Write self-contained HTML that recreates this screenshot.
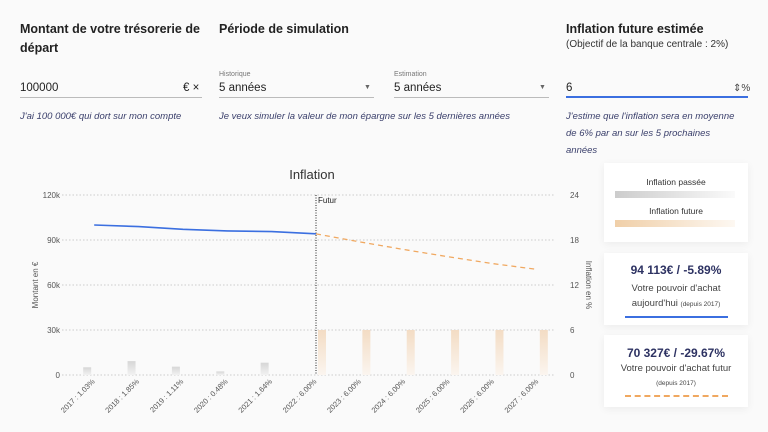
<!DOCTYPE html>
<html><head><meta charset="utf-8">
<style>
*{box-sizing:border-box;margin:0;padding:0}
body{width:768px;height:432px;overflow:hidden;background:#fafafa;font-family:"Liberation Sans",sans-serif;color:#222;position:relative}
.a{position:absolute;white-space:nowrap}
.h{font-size:12.5px;font-weight:bold;color:#222}
.sub{font-size:10px;color:#333}
.lab{font-size:7px;color:#777}
.val{font-size:11.5px;color:#222}
.line{position:absolute;height:1px;background:#bbb}
.hint{font-size:9.5px;font-style:italic;color:#3a3f6b;line-height:17px}
.card{position:absolute;background:#fff;box-shadow:0 2px 8px rgba(0,0,0,0.06);left:604px;width:144px}
.ct{text-align:center;position:absolute;left:0;right:0}
</style></head><body>
<div class="a h" style="left:20px;top:20px;line-height:19px">Montant de votre trésorerie de<br>départ</div>
<div class="a h" style="left:219px;top:20px;line-height:19px">Période de simulation</div>
<div class="a h" style="left:566px;top:20px;line-height:19px">Inflation future estimée</div>
<div class="a sub" style="left:566px;top:39px">(Objectif de la banque centrale : 2%)</div>

<div class="a val" style="left:20px;top:82px">100000</div>
<div class="a val" style="left:183px;top:82px">€ ×</div>
<div class="line" style="left:20px;top:97px;width:182px"></div>

<div class="a lab" style="left:219px;top:71px">Historique</div>
<div class="a val" style="left:219px;top:82px">5 années</div>
<div class="a" style="left:364px;top:84px;font-size:7px;color:#666">▼</div>
<div class="line" style="left:219px;top:97px;width:155px"></div>

<div class="a lab" style="left:394px;top:71px">Estimation</div>
<div class="a val" style="left:394px;top:82px">5 années</div>
<div class="a" style="left:539px;top:84px;font-size:7px;color:#666">▼</div>
<div class="line" style="left:394px;top:97px;width:155px"></div>

<div class="a val" style="left:566px;top:82px">6</div>
<div class="a" style="left:733px;top:83px;font-size:10px;color:#444">⇕%</div>
<div class="line" style="left:566px;top:96px;width:182px;height:2px;background:#3b6fe0"></div>

<div class="a hint" style="left:20px;top:108px">J'ai 100 000€ qui dort sur mon compte</div>
<div class="a hint" style="left:219px;top:108px">Je veux simuler la valeur de mon épargne sur les 5 dernières années</div>
<div class="a hint" style="left:566px;top:108px">J'estime que l'inflation sera en moyenne<br>de 6% par an sur les 5 prochaines<br>années</div>

<svg class="a" style="left:0;top:160px" width="600" height="272">
<defs>
<linearGradient id="gp" x1="0" y1="0" x2="0" y2="1"><stop offset="0" stop-color="#d6d6d6"/><stop offset="1" stop-color="#f2f2f2"/></linearGradient>
<linearGradient id="gf" x1="0" y1="0" x2="0" y2="1"><stop offset="0" stop-color="#f3dcc4"/><stop offset="1" stop-color="#fbf5ef"/></linearGradient>
</defs>
<g id="g"></g>
</svg>

<div class="card" style="top:163px;height:79px">
<div class="ct" style="top:14px;font-size:8.5px;color:#333">Inflation passée</div>
<div style="position:absolute;left:11px;top:28px;width:120px;height:7px;background:linear-gradient(90deg,#ccc,#fafafa)"></div>
<div class="ct" style="top:43px;font-size:8.5px;color:#333">Inflation future</div>
<div style="position:absolute;left:11px;top:57px;width:120px;height:7px;background:linear-gradient(90deg,#f0cfa8,#fdf8f2)"></div>
</div>
<div class="card" style="top:253px;height:72px">
<div class="ct" style="top:10px;font-size:12px;font-weight:bold;color:#2d3262">94 113€ / -5.89%</div>
<div class="ct" style="top:28px;font-size:9.5px;color:#444;line-height:15px">Votre pouvoir d'achat<br>aujourd'hui <span style="font-size:6.5px">(depuis 2017)</span></div>
<div style="position:absolute;left:21px;top:63px;width:103px;height:2px;background:#3b6fe0"></div>
</div>
<div class="card" style="top:335px;height:72px">
<div class="ct" style="top:11px;font-size:12px;font-weight:bold;color:#2d3262">70 327€ / -29.67%</div>
<div class="ct" style="top:28px;font-size:9.5px;color:#444">Votre pouvoir d'achat futur</div>
<div class="ct" style="top:45px;font-size:6.5px;color:#444">(depuis 2017)</div>
<div style="position:absolute;left:21px;top:60px;width:103px;border-top:2px dashed #f0a860"></div>
</div>

<script>
const years=["2017","2018","2019","2020","2021","2022","2023","2024","2025","2026","2027"];
const inflation=[1.03,1.85,1.11,0.48,1.64,6.00,6.00,6.00,6.00,6.00,6.00];
const pastValues=[100000,98970,97140,96070,95600,94113];
const futureValues=[94113,88680,83560,78740,74200,70327];
const leftTicks=["0","30k","60k","90k","120k"];
const rightTicks=["0","6","12","18","24"];
const ns="http://www.w3.org/2000/svg";
const g=document.getElementById('g');
const L=72,R=560,T=35,B=215;
const bw=(R-L)/years.length;
const xC=i=>L+bw*(i+0.5);
const yL=v=>B-(v/120000)*(B-T);
const yR=v=>B-(v/24)*(B-T);
function el(t,a){const e=document.createElementNS(ns,t);for(const k in a)e.setAttribute(k,a[k]);g.appendChild(e);return e;}
function tx(x,y,s,a){const e=el('text',Object.assign({x:x,y:y,'font-size':8,fill:'#555','font-family':'Liberation Sans, sans-serif'},a));e.textContent=s;return e;}
leftTicks.forEach((t,i)=>{const y=B-i*(B-T)/4;
const ln=el('line',{x1:62,x2:555,y1:y,y2:y,stroke:'#ccc','stroke-dasharray':'1.5,2'});

const a=tx(60,y+3,t,{'text-anchor':'end'});
const b=tx(570,y+3,rightTicks[i]);});
const tt=tx(312,19,'Inflation',{'font-size':13,fill:'#333','text-anchor':'middle'});

const yt=tx(0,0,'Montant en €',{transform:'translate(38,125) rotate(-90)','text-anchor':'middle'});

const yt2=tx(0,0,'Inflation en %',{transform:'translate(586,125) rotate(90)','text-anchor':'middle'});

inflation.forEach((v,i)=>{const fut=i>=5;const x=xC(i)-4+(fut?6:-7);
const r=el('rect',{x:x,y:yR(v),width:8,height:B-yR(v),fill:fut?'url(#gf)':'url(#gp)'});

const lb=tx(0,0,years[i]+' : '+v.toFixed(2)+'%',{transform:'translate('+(xC(i)+1)+','+(B+7)+') rotate(-45)','text-anchor':'end','font-size':7.5});
});
const fx=xC(5);
const vl=el('line',{x1:fx,x2:fx,y1:T,y2:B,stroke:'#222','stroke-dasharray':'1,1.5'});

const ft=tx(fx+2,T+8,'Futur',{fill:'#222'});
const p1=el('polyline',{points:pastValues.map((v,i)=>xC(i)+','+yL(v)).join(' '),fill:'none',stroke:'#3b6fe0','stroke-width':1.6});

const p2=el('polyline',{points:futureValues.map((v,i)=>xC(i+5)+','+yL(v)).join(' '),fill:'none',stroke:'#f0a860','stroke-width':1.3,'stroke-dasharray':'5,4'});

</script>
</body></html>
